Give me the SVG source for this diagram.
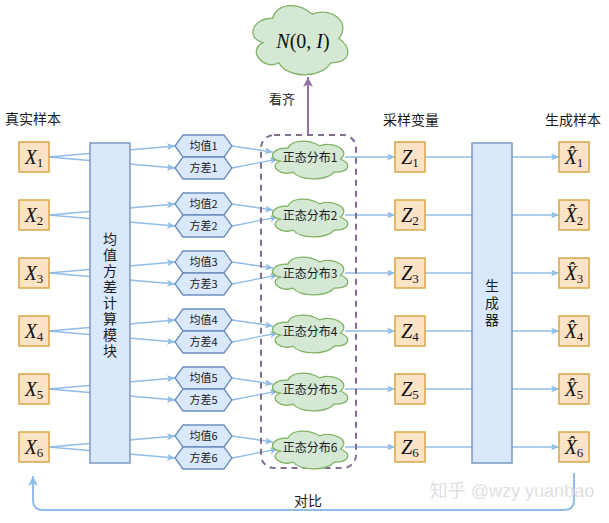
<svg xmlns="http://www.w3.org/2000/svg" xmlns:xlink="http://www.w3.org/1999/xlink" width="609" height="523" viewBox="0 0 609 523">
<style>
.cjk{font-family:"Noto Sans CJK SC","Noto Sans",sans-serif;fill:#1a1a1a}
.hdr{font-size:14px;text-anchor:middle}
.box{fill:#fde3c6;stroke:#d9a743;stroke-width:1.5}
.blk{fill:#dae8fc;stroke:#7e99c2;stroke-width:1.5}
.hex{fill:#dae8fc;stroke:#6c8ebf;stroke-width:1.3}
.cloud{fill:#d5e8d4;stroke:#82b366;stroke-width:1.3}
.ht{font-size:11px;text-anchor:middle}
.ct{font-size:12px;text-anchor:middle}
.vt{font-size:14px;text-anchor:middle;writing-mode:vertical-rl}
.m{font-family:"Liberation Serif",serif;font-size:20px;fill:#111;text-anchor:middle}
.it{font-style:italic}
.sub{font-size:13px}
.ln{fill:none;stroke:#90bce6;stroke-width:1.3}
.arr{marker-end:url(#ab)}
</style>
<defs>
<marker id="ab" markerUnits="userSpaceOnUse" markerWidth="10" markerHeight="8" refX="8" refY="3.5" orient="auto">
<path d="M0,0 L8,3.5 L0,7 L2,3.5 Z" fill="#90bce6"/>
</marker>
<marker id="ap" markerUnits="userSpaceOnUse" markerWidth="12" markerHeight="12" refX="10" refY="5" orient="auto">
<path d="M0,0 L10,5 L0,10 L2.5,5 Z" fill="#9673a6"/>
</marker>
<marker id="af" markerUnits="userSpaceOnUse" markerWidth="12" markerHeight="12" refX="10" refY="5" orient="auto">
<path d="M0,0 L10,5 L0,10 L2.5,5 Z" fill="#90bce6"/>
</marker>
<path id="cs" d="M21,11 C4.2,11 0,22 13.44,24.2 C0,29.04 15.12,39.6 26.04,35.2 C33.6,44 58.8,44 67.2,35.2 C84,35.2 84,26.4 73.5,22 C84,13.2 67.2,4.4 52.5,8.8 C42,2.2 25.2,2.2 21,11 Z"/>
<path id="cb" d="M26.5,20.25 C5.3,20.25 0,40.5 16.96,44.55 C0,53.46 19.08,72.9 32.86,64.8 C42.4,81 74.2,81 84.8,64.8 C106,64.8 106,48.6 92.75,40.5 C106,24.3 84.8,8.1 66.25,16.2 C53,4.05 31.8,4.05 26.5,20.25 Z"/>
<polygon id="hx" points="-28.5,0 -20.5,-11 20.5,-11 28.5,0 20.5,11 -20.5,11"/>
</defs>

<g id="headers" class="cjk">
<text class="hdr" x="33" y="124">真实样本</text>
<text class="hdr" x="411" y="125">采样变量</text>
<text class="hdr" x="573" y="125">生成样本</text>
<text x="282" y="104" font-size="13" text-anchor="middle">看齐</text>
</g>

<g id="connectors">
<g class="ln arr">
<path d="M49,157 L175,146"/><path d="M49,157 L175,168"/>
<path d="M49,215 L175,204"/><path d="M49,215 L175,226"/>
<path d="M49,273 L175,262"/><path d="M49,273 L175,284"/>
<path d="M49,331 L175,320"/><path d="M49,331 L175,342"/>
<path d="M49,389 L175,378"/><path d="M49,389 L175,400"/>
<path d="M49,447 L175,436"/><path d="M49,447 L175,458"/>
<path d="M232,146 L273,152"/><path d="M232,168 L278,159"/>
<path d="M232,204 L273,210"/><path d="M232,226 L278,217"/>
<path d="M232,262 L273,268"/><path d="M232,284 L278,275"/>
<path d="M232,320 L273,326"/><path d="M232,342 L278,333"/>
<path d="M232,378 L273,384"/><path d="M232,400 L278,391"/>
<path d="M232,436 L273,442"/><path d="M232,458 L278,449"/>
<path d="M345,157 H395"/><path d="M345,215 H395"/><path d="M345,273 H395"/>
<path d="M345,331 H395"/><path d="M345,389 H395"/><path d="M345,447 H395"/>
<path d="M512,157 H559"/><path d="M512,215 H559"/><path d="M512,273 H559"/>
<path d="M512,331 H559"/><path d="M512,389 H559"/><path d="M512,447 H559"/>
</g>
<g class="ln">
<path d="M425,157 H472"/><path d="M425,215 H472"/><path d="M425,273 H472"/>
<path d="M425,331 H472"/><path d="M425,389 H472"/><path d="M425,447 H472"/>
</g>
<path d="M308,134 V77" fill="none" stroke="#9673a6" stroke-width="2" marker-end="url(#ap)"/>
<path d="M574,473 V500 Q574,510 564,510 H43 Q33,510 33,500 V476" fill="none" stroke="#90bce6" stroke-width="2" marker-end="url(#af)"/>
</g>

<g id="group-dashed">
<rect x="261" y="135" width="95" height="333" rx="13" fill="none" stroke="#836d8e" stroke-width="2" stroke-dasharray="6 5"/>
</g>

<g id="calc-module">
<rect class="blk" x="90" y="143" width="40" height="320"/>
<text class="cjk vt" x="110" y="296" letter-spacing="2">均值方差计算模块</text>
</g>

<g id="generator">
<rect class="blk" x="472" y="143" width="40" height="320"/>
<text class="cjk vt" x="492" y="304" letter-spacing="3">生成器</text>
</g>

<g id="prior">
<use href="#cb" class="cloud" x="246" y="-2"/>
<text class="m" x="303" y="48" font-size="22"><tspan class="it">N</tspan>(0, <tspan class="it">I</tspan>)</text>
</g>

<g id="X1"><rect class="box" x="19" y="142" width="30" height="30"/><text class="m" x="34" y="164"><tspan class="it">X</tspan><tspan class="sub" dy="3">1</tspan></text></g>
<g id="X2"><rect class="box" x="19" y="200" width="30" height="30"/><text class="m" x="34" y="222"><tspan class="it">X</tspan><tspan class="sub" dy="3">2</tspan></text></g>
<g id="X3"><rect class="box" x="19" y="258" width="30" height="30"/><text class="m" x="34" y="280"><tspan class="it">X</tspan><tspan class="sub" dy="3">3</tspan></text></g>
<g id="X4"><rect class="box" x="19" y="316" width="30" height="30"/><text class="m" x="34" y="338"><tspan class="it">X</tspan><tspan class="sub" dy="3">4</tspan></text></g>
<g id="X5"><rect class="box" x="19" y="374" width="30" height="30"/><text class="m" x="34" y="396"><tspan class="it">X</tspan><tspan class="sub" dy="3">5</tspan></text></g>
<g id="X6"><rect class="box" x="19" y="432" width="30" height="30"/><text class="m" x="34" y="454"><tspan class="it">X</tspan><tspan class="sub" dy="3">6</tspan></text></g>

<g id="mean1"><use href="#hx" class="hex" x="203.5" y="146"/><text class="cjk ht" x="203.5" y="150">均值1</text></g>
<g id="var1"><use href="#hx" class="hex" x="203.5" y="168"/><text class="cjk ht" x="203.5" y="172">方差1</text></g>
<g id="mean2"><use href="#hx" class="hex" x="203.5" y="204"/><text class="cjk ht" x="203.5" y="208">均值2</text></g>
<g id="var2"><use href="#hx" class="hex" x="203.5" y="226"/><text class="cjk ht" x="203.5" y="230">方差2</text></g>
<g id="mean3"><use href="#hx" class="hex" x="203.5" y="262"/><text class="cjk ht" x="203.5" y="266">均值3</text></g>
<g id="var3"><use href="#hx" class="hex" x="203.5" y="284"/><text class="cjk ht" x="203.5" y="288">方差3</text></g>
<g id="mean4"><use href="#hx" class="hex" x="203.5" y="320"/><text class="cjk ht" x="203.5" y="324">均值4</text></g>
<g id="var4"><use href="#hx" class="hex" x="203.5" y="342"/><text class="cjk ht" x="203.5" y="346">方差4</text></g>
<g id="mean5"><use href="#hx" class="hex" x="203.5" y="378"/><text class="cjk ht" x="203.5" y="382">均值5</text></g>
<g id="var5"><use href="#hx" class="hex" x="203.5" y="400"/><text class="cjk ht" x="203.5" y="404">方差5</text></g>
<g id="mean6"><use href="#hx" class="hex" x="203.5" y="436"/><text class="cjk ht" x="203.5" y="440">均值6</text></g>
<g id="var6"><use href="#hx" class="hex" x="203.5" y="458"/><text class="cjk ht" x="203.5" y="462">方差6</text></g>

<g id="normal1"><use href="#cs" class="cloud" x="267" y="137"/><text class="cjk ct" x="310" y="162">正态分布1</text></g>
<g id="normal2"><use href="#cs" class="cloud" x="267" y="195"/><text class="cjk ct" x="310" y="220">正态分布2</text></g>
<g id="normal3"><use href="#cs" class="cloud" x="267" y="253"/><text class="cjk ct" x="310" y="278">正态分布3</text></g>
<g id="normal4"><use href="#cs" class="cloud" x="267" y="311"/><text class="cjk ct" x="310" y="336">正态分布4</text></g>
<g id="normal5"><use href="#cs" class="cloud" x="267" y="369"/><text class="cjk ct" x="310" y="394">正态分布5</text></g>
<g id="normal6"><use href="#cs" class="cloud" x="267" y="427"/><text class="cjk ct" x="310" y="452">正态分布6</text></g>

<g id="Z1"><rect class="box" x="395" y="142" width="30" height="30"/><text class="m" x="410" y="164"><tspan class="it">Z</tspan><tspan class="sub" dy="3">1</tspan></text></g>
<g id="Z2"><rect class="box" x="395" y="200" width="30" height="30"/><text class="m" x="410" y="222"><tspan class="it">Z</tspan><tspan class="sub" dy="3">2</tspan></text></g>
<g id="Z3"><rect class="box" x="395" y="258" width="30" height="30"/><text class="m" x="410" y="280"><tspan class="it">Z</tspan><tspan class="sub" dy="3">3</tspan></text></g>
<g id="Z4"><rect class="box" x="395" y="316" width="30" height="30"/><text class="m" x="410" y="338"><tspan class="it">Z</tspan><tspan class="sub" dy="3">4</tspan></text></g>
<g id="Z5"><rect class="box" x="395" y="374" width="30" height="30"/><text class="m" x="410" y="396"><tspan class="it">Z</tspan><tspan class="sub" dy="3">5</tspan></text></g>
<g id="Z6"><rect class="box" x="395" y="432" width="30" height="30"/><text class="m" x="410" y="454"><tspan class="it">Z</tspan><tspan class="sub" dy="3">6</tspan></text></g>

<g id="Xhat1"><rect class="box" x="559" y="142" width="30" height="30"/><text class="m" x="574" y="164"><tspan class="it">X̂</tspan><tspan class="sub" dy="3">1</tspan></text></g>
<g id="Xhat2"><rect class="box" x="559" y="200" width="30" height="30"/><text class="m" x="574" y="222"><tspan class="it">X̂</tspan><tspan class="sub" dy="3">2</tspan></text></g>
<g id="Xhat3"><rect class="box" x="559" y="258" width="30" height="30"/><text class="m" x="574" y="280"><tspan class="it">X̂</tspan><tspan class="sub" dy="3">3</tspan></text></g>
<g id="Xhat4"><rect class="box" x="559" y="316" width="30" height="30"/><text class="m" x="574" y="338"><tspan class="it">X̂</tspan><tspan class="sub" dy="3">4</tspan></text></g>
<g id="Xhat5"><rect class="box" x="559" y="374" width="30" height="30"/><text class="m" x="574" y="396"><tspan class="it">X̂</tspan><tspan class="sub" dy="3">5</tspan></text></g>
<g id="Xhat6"><rect class="box" x="559" y="432" width="30" height="30"/><text class="m" x="574" y="454"><tspan class="it">X̂</tspan><tspan class="sub" dy="3">6</tspan></text></g>

<g id="labels">
<text class="cjk" x="308" y="506" font-size="14" text-anchor="middle">对比</text>
<text x="512" y="497" font-family="Liberation Sans, Noto Sans CJK SC, sans-serif" font-size="18" text-anchor="middle" fill="#d4d4d4" stroke="#ffffff" stroke-width="0.3">知乎 @wzy yuanbao</text>
</g>
</svg>
